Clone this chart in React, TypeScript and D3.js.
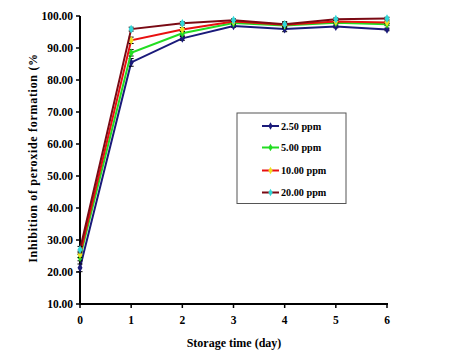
import React from "react";
import * as d3 from "d3";

const days = [0, 1, 2, 3, 4, 5, 6];
const yTicks = [10, 20, 30, 40, 50, 60, 70, 80, 90, 100];
const seriesNames = ["2.50 ppm", "5.00 ppm", "10.00 ppm", "20.00 ppm"];
const s250 = [21.3, 85.5, 93.0, 96.9, 95.9, 96.7, 95.8];
const s500 = [24.5, 88.5, 94.6, 97.8, 97.0, 97.9, 97.4];
const s1000 = [25.5, 92.4, 95.8, 98.3, 97.3, 98.3, 98.0];
const s2000 = [27.0, 95.9, 97.7, 98.7, 97.4, 99.0, 99.2];
const err250 = [1.2, 1.2, 0.6, 0.4, 0.8, 0.4, 0.4];
const err500 = [1.0, 1.0, 0.6, 0.4, 0.8, 0.4, 0.4];
const err1000 = [1.0, 1.0, 0.6, 0.4, 0.8, 0.4, 0.4];
const err2000 = [1.0, 0.6, 0.5, 0.4, 0.8, 0.4, 0.4];
const lineColors = ["#1a1a7a", "#22dd22", "#e81010", "#7a0a14"];
const markerColors = ["#1a1a7a", "#22dd22", "#f0e020", "#30d8d8"];

const series = [s250, s500, s1000, s2000];
const errs = [err250, err500, err1000, err2000];

export default function App() {
  const W = 474, H = 358;
  const x = d3.scaleLinear().domain([0, 6]).range([80, 387]);
  const y = d3.scaleLinear().domain([10, 100]).range([304, 16]);
  const line = d3.line<number>().x((_, i) => x(days[i])).y((d) => y(d));
  const font = "'Liberation Serif', 'Times New Roman', serif";
  const legendY = [126, 147.5, 170.5, 192.5];

  return (
    <svg width={W} height={H} style={{ position: "absolute", left: 0, top: 0, background: "#fff" }}>
      <rect width={W} height={H} fill="#fff" />
      {/* axes */}
      <line x1={80} x2={80} y1={y(100)} y2={y(10) + 1} stroke="#000" strokeWidth={2} />
      <line x1={79} x2={x(6) + 1} y1={y(10)} y2={y(10)} stroke="#000" strokeWidth={2} />
      {yTicks.map((t) => (
        <g key={t}>
          <line x1={76} x2={80} y1={y(t)} y2={y(t)} stroke="#000" strokeWidth={1.5} />
          <text x={73} y={y(t)} dy="0.35em" textAnchor="end" fontFamily={font} fontWeight="bold" fontSize={11.5}>
            {t.toFixed(2)}
          </text>
        </g>
      ))}
      {days.map((d) => (
        <g key={d}>
          <line x1={x(d)} x2={x(d)} y1={y(10)} y2={y(10) + 4} stroke="#000" strokeWidth={1.5} />
          <text x={x(d)} y={324} textAnchor="middle" fontFamily={font} fontWeight="bold" fontSize={11.5}>
            {d}
          </text>
        </g>
      ))}
      <text x={234} y={347} textAnchor="middle" fontFamily={font} fontWeight="bold" fontSize={12}>
        Storage time (day)
      </text>
      <text
        transform={`translate(37,158) rotate(-90)`}
        textAnchor="middle"
        fontFamily={font}
        fontWeight="bold"
        fontSize={12}
        letterSpacing={0.7}
      >
        Inhibition of peroxide formation (%
      </text>
      {/* series */}
      {series.map((s, k) => (
        <g key={k}>
          <path d={line(s) || ""} fill="none" stroke={lineColors[k]} strokeWidth={2} />
          {s.map((v, i) => (
            <g key={i}>
              <line x1={x(days[i])} x2={x(days[i])} y1={y(v - errs[k][i])} y2={y(v + errs[k][i])} stroke="#000" strokeWidth={1} />
              <line x1={x(days[i]) - 2.5} x2={x(days[i]) + 2.5} y1={y(v - errs[k][i])} y2={y(v - errs[k][i])} stroke="#000" strokeWidth={1} />
              <line x1={x(days[i]) - 2.5} x2={x(days[i]) + 2.5} y1={y(v + errs[k][i])} y2={y(v + errs[k][i])} stroke="#000" strokeWidth={1} />
              <path
                d={d3.symbol(d3.symbolDiamond, 22)() || ""}
                transform={`translate(${x(days[i])},${y(v)})`}
                fill={markerColors[k]}
              />
            </g>
          ))}
        </g>
      ))}
      {/* legend */}
      <rect x={237} y={113} width={109} height={90.5} fill="#fff" stroke="#555" strokeWidth={1} />
      {seriesNames.map((n, k) => (
        <g key={n}>
          <line x1={262} x2={279} y1={legendY[k]} y2={legendY[k]} stroke={lineColors[k]} strokeWidth={2} />
          <path d={d3.symbol(d3.symbolDiamond, 16)() || ""} transform={`translate(270.5,${legendY[k]})`} fill={markerColors[k]} />
          <text x={281} y={legendY[k]} dy="0.35em" fontFamily={font} fontWeight="bold" fontSize={10.2}>
            {n}
          </text>
        </g>
      ))}
    </svg>
  );
}
